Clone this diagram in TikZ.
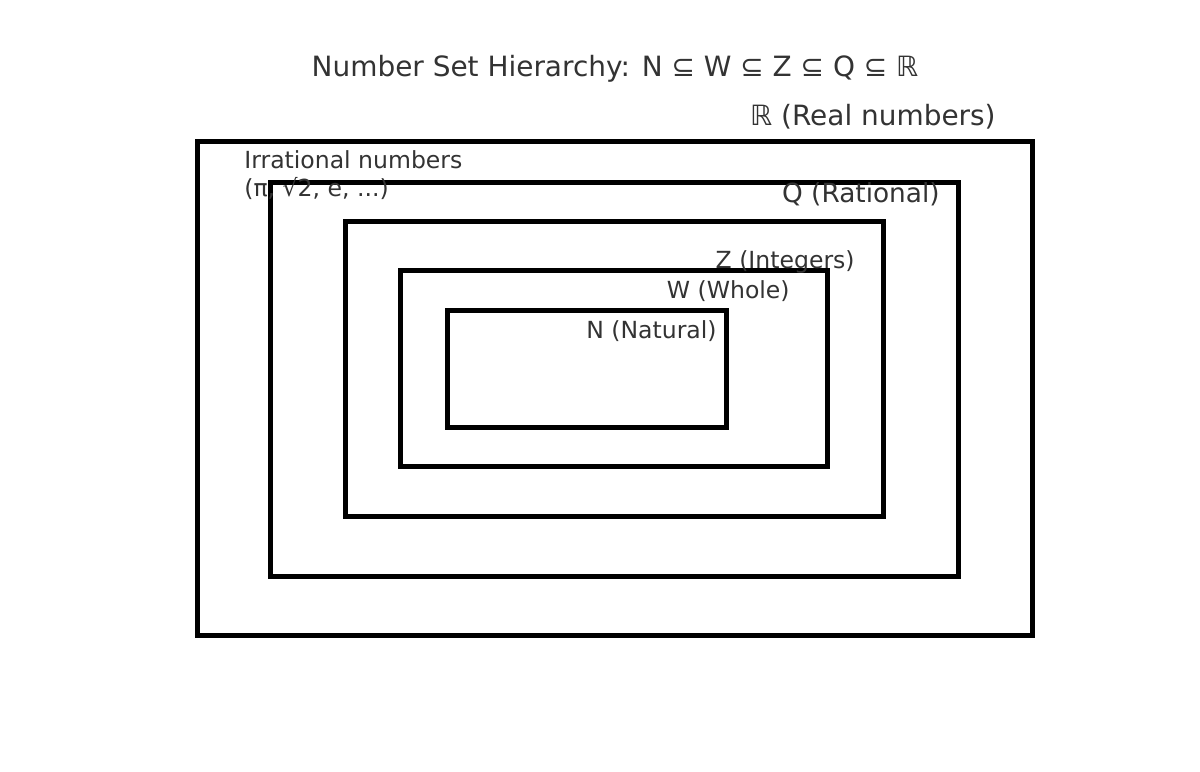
\documentclass[tikz,border=0pt]{standalone}
\usepackage{fontspec}
\setmainfont{DejaVu Sans}
\usepackage{tikz}
\usetikzlibrary{positioning}

\tikzset{
  setbox/.style={draw, rectangle, line width=2.85pt, inner sep=0pt, outer sep=0pt},
  lbl/.style={text=black!80, inner sep=0pt, font=\fontsize{13.4}{16}\selectfont},
  biglbl/.style={text=black!80, inner sep=0pt, font=\fontsize{15.9}{19}\selectfont}
}

\begin{document}
\begin{tikzpicture}[x=0.02cm, y=-0.02cm]
\useasboundingbox (0,0) rectangle (1200,771);
% Define nodes
\node[biglbl] (title) at (615,69) {Number Set Hierarchy: N ⊆ W ⊆ Z ⊆ Q ⊆ ℝ};
\node[setbox, minimum width=16.72cm, minimum height=9.9cm] (R) at (615,388.5) {};
\node[setbox, minimum width=13.78cm, minimum height=7.9cm] (Q) at (614.5,379.5) {};
\node[setbox, minimum width=10.78cm, minimum height=5.92cm] (Z) at (614.5,369) {};
\node[setbox, minimum width=8.56cm, minimum height=3.94cm] (W) at (614,368.5) {};
\node[setbox, minimum width=5.6cm, minimum height=2.36cm] (N) at (587,369) {};

% Labels
\node[biglbl, anchor=east] (Rlbl) at (996,117) {ℝ (Real numbers)};
\node[lbl, anchor=west, align=left] (irr) at (244,175) {Irrational numbers\\(π, √2, e, ...)};
\node[lbl, anchor=east, font=\fontsize{15}{18}\selectfont] (Qlbl) at (940,194) {Q (Rational)};
\node[lbl, anchor=east] (Zlbl) at (855,262) {Z (Integers)};
\node[lbl, anchor=east] (Wlbl) at (790,291) {W (Whole)};
\node[lbl, anchor=east] (Nlbl) at (717,331) {N (Natural)};
\end{tikzpicture}
\end{document}
